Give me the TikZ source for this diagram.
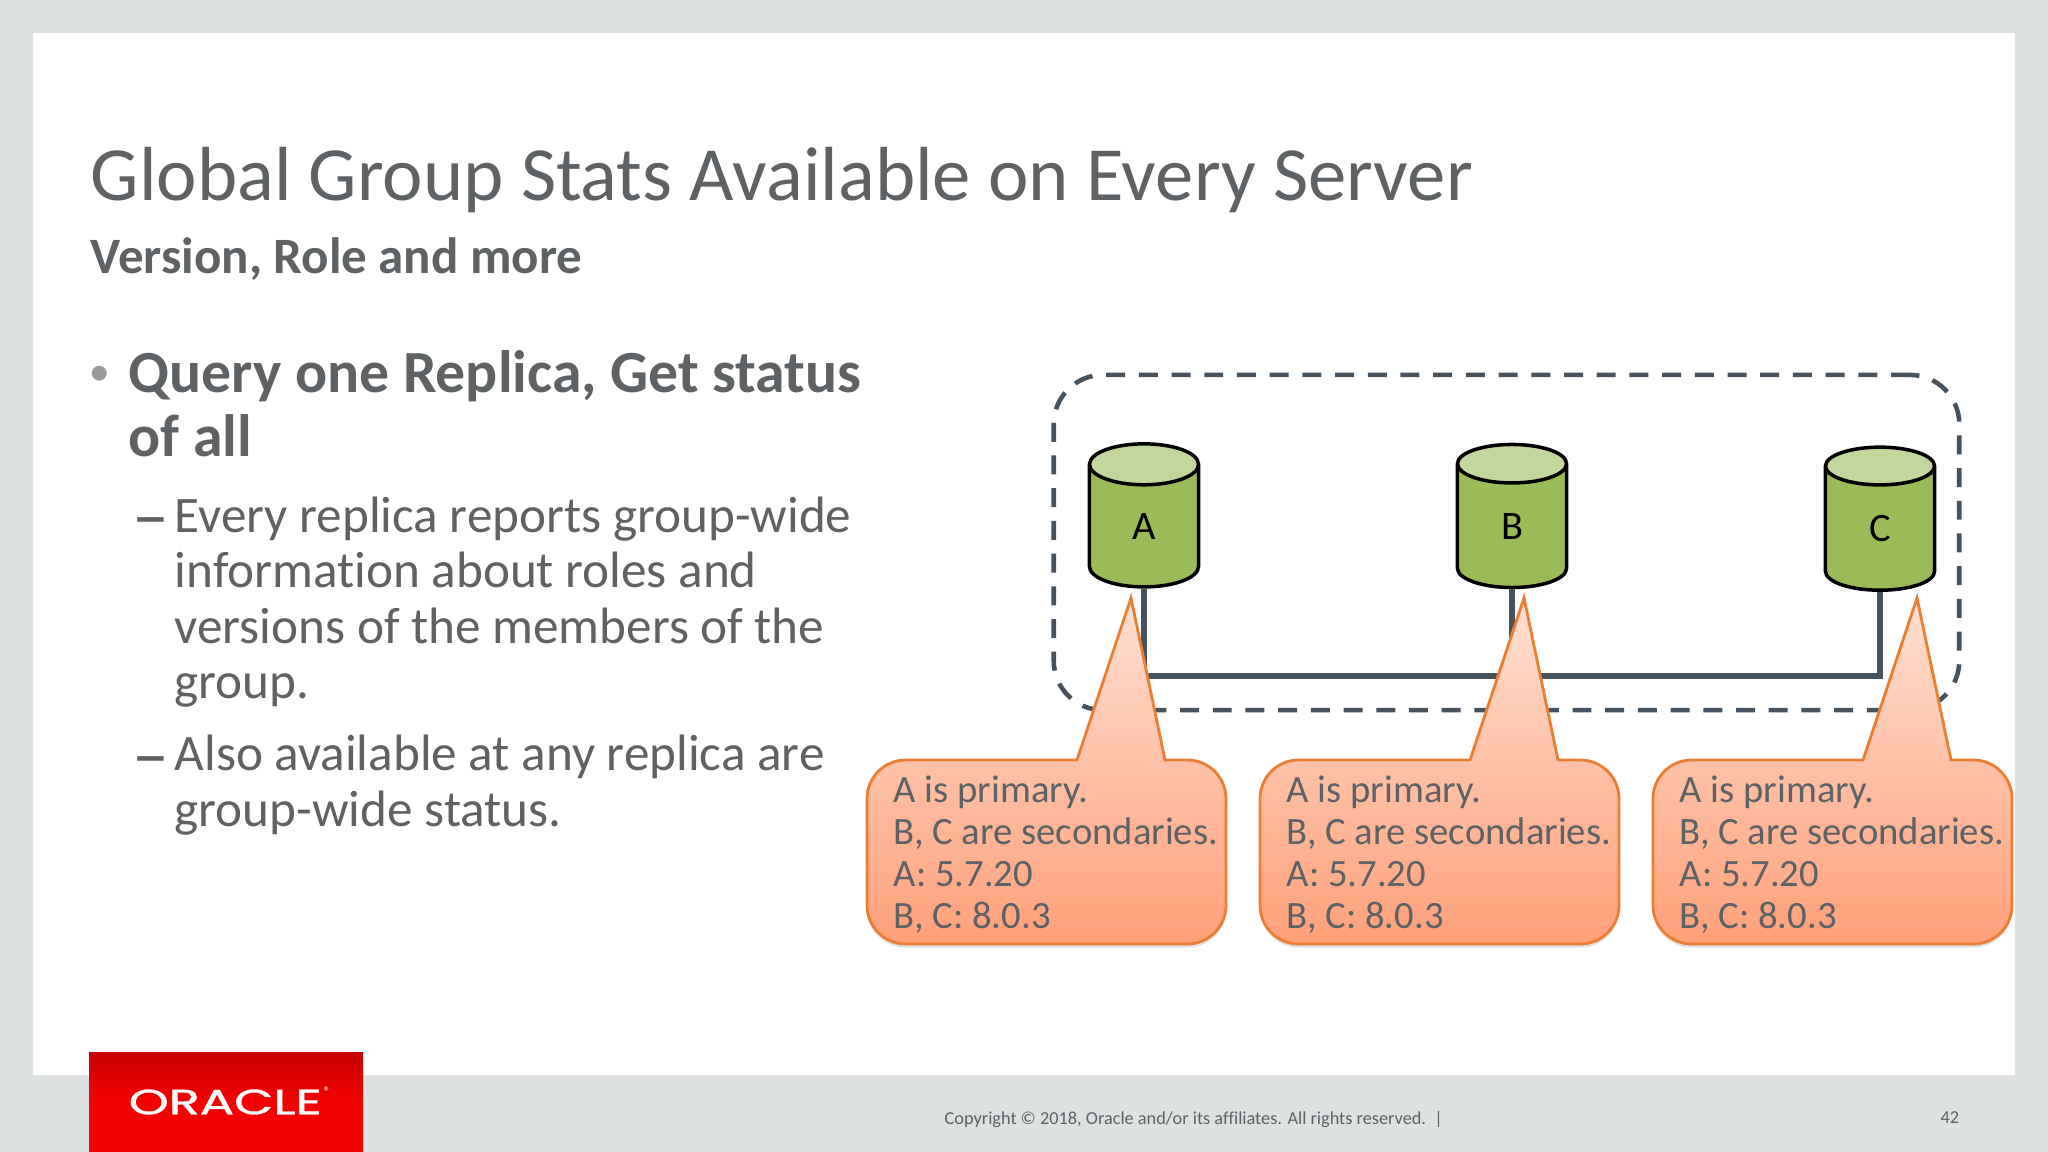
\documentclass[tikz,border=0pt]{standalone}
\usepackage{fontspec}
\setmainfont[Ligatures=NoCommon]{Carlito}
\newfontfamily\logofont[FakeBold=1]{Poppins}
\usetikzlibrary{shapes.geometric,shadows}
\definecolor{slidebg}{HTML}{DDE1E2}
\definecolor{slidetext}{HTML}{5E6264}
\definecolor{linedark}{HTML}{46535E}
\definecolor{dbbody}{HTML}{9BBB59}
\definecolor{dbtop}{HTML}{C3D69B}
\definecolor{calloutedge}{HTML}{ED7D31}
\definecolor{callouttop}{HTML}{FFE0D2}
\definecolor{calloutbot}{HTML}{FFA078}
\begin{document}
\begin{tikzpicture}[x=.01cm, y=-.01cm,
    txt/.style={inner sep=0, anchor=north west, align=left, text=slidetext},
    listmark/.style={inner sep=0, anchor=base west},
    db/.style={shape=cylinder, shape border rotate=90, aspect=1.75, draw=black, line width=1pt, cylinder uses custom fill, cylinder body fill=dbbody, cylinder end fill=dbtop, minimum width=1.09cm, minimum height=1.43cm, inner sep=0, font=\fontsize{11.5}{14}\selectfont},
    bus/.style={draw=linedark, line width=1.9pt},
    callout/.style={draw=calloutedge, line width=.8pt, top color=callouttop, bottom color=calloutbot, drop shadow={opacity=.25, shadow xshift=0pt, shadow yshift=-1pt}}]
\useasboundingbox (0,0) rectangle (2048,1152);
\fill[slidebg] (0,0) rectangle (2048,1152);
\fill[white] (33,33) rectangle (2015,1075);
\node[txt, font=\fontsize{21.8}{26}\selectfont] (title) at (90,147) {Global Group Stats Available on Every Server};
\node[txt, font=\fontsize{14.5}{17}\selectfont\bfseries] (subtitle) at (90,237.5) {Version, Role and more};
\node[listmark, text=gray!80, font=\fontsize{10}{12}\selectfont\bfseries] (bullet) at (90,384) {•};
\node[txt, font=\fontsize{17}{18.2}\selectfont\bfseries] (query) at (128,350) {Query one Replica, Get status\\of all};
\node[listmark, text=slidetext, font=\fontsize{21}{24}\selectfont] (dashA) at (132,541) {–};
\node[txt, font=\fontsize{14.56}{15.8}\selectfont] (every) at (174,496) {Every replica reports group-wide\\information about roles and\\versions of the members of the\\group.};
\node[listmark, text=slidetext, font=\fontsize{21}{24}\selectfont] (dashB) at (132,779) {–};
\node[txt, font=\fontsize{14.56}{15.8}\selectfont] (also) at (174,734.5) {Also available at any replica are\\group-wide status.};
\node[draw=linedark, dash pattern=on 5.4pt off 3.9pt, line width=1.3pt, rounded corners=14pt, minimum width=9.05cm, minimum height=3.35cm] (group) at (1506.5,542.5) {};
\coordinate (busA) at (1144,676);
\coordinate (busB) at (1512,676);
\coordinate (busC) at (1880,676);
\node[db] (dbA) at (1144,526.5) {A};
\node[db] (dbB) at (1512,526.5) {B};
\node[db] (dbC) at (1880,529) {C};
\draw[bus] (dbA.south)--(busA)--(busC)--(dbC.south);
\draw[bus] (busB)--(dbB.south);
\foreach \bx/\bname in {867/one,1260/two,1653/three}
{
    \path[callout] (\bx+298,760) [rounded corners=11pt] --(\bx+359,760)--(\bx+359,944)--(\bx,944)--(\bx,760) [sharp corners] --(\bx+210,760)--(\bx+264,598)--cycle;
    \node[txt, font=\fontsize{11}{11.9}\selectfont] (note\bname) at (\bx+26,775.5) {A is primary.\\B, C are secondaries.\\A: 5.7.20\\B, C: 8.0.3};
}
\shade[top color=red!78!black, bottom color=red!96!black, middle color=red!96!black] (89,1052) rectangle (363,1152);
\node[inner sep=0, anchor=west, text=white, font=\fontsize{10}{12}\logofont] (logo) at (128,1102) {\scalebox{1.45}[1]{ORACLE}};
\node[inner sep=0, anchor=west, text=white, font=\fontsize{4}{5}\selectfont] (regmark) at (323,1092) {®};
\node[txt, font=\fontsize{5.2}{7}\selectfont] (copy) at (944,1111) {Copyright © 2018, Oracle and/or its affiliates. All rights reserved.\ \ |};
\node[txt, font=\fontsize{5.2}{7}\selectfont] (page) at (1940,1111) {42};
\end{tikzpicture}
\end{document}
